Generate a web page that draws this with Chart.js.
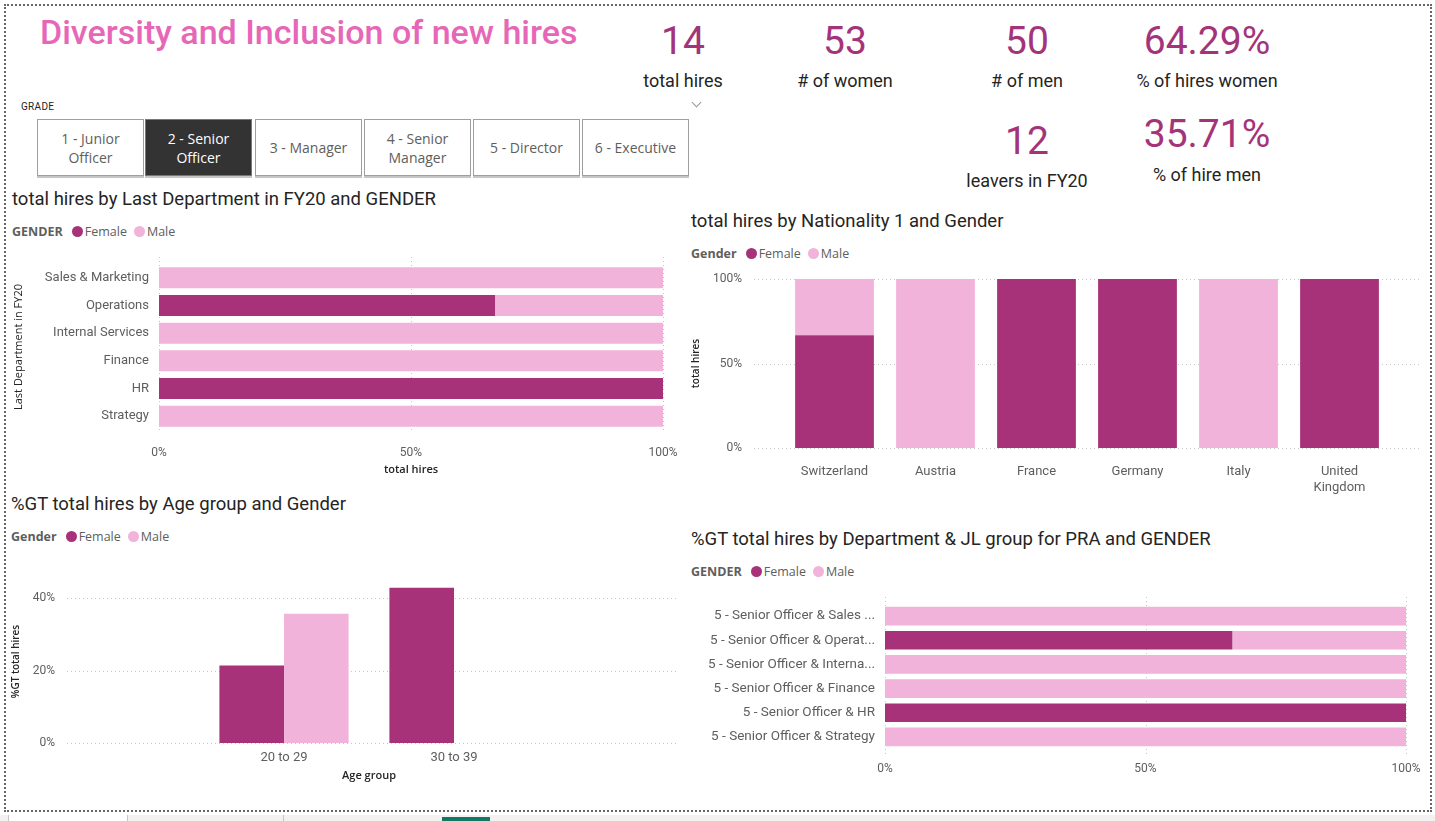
<!DOCTYPE html>
<html>
<head>
<meta charset="utf-8">
<script src="https://cdn.jsdelivr.net/npm/chart.js@4.4.1/dist/chart.umd.min.js"></script>
<style>
  html, body { margin: 0; padding: 0; background: #fff; }
  #page { position: relative; width: 1435px; height: 821px; overflow: hidden; font-family: Roboto, sans-serif; }
  .frame { position: absolute; left: 4px; top: 4px; width: 1424px; height: 804px; border: 2px dotted #666; }
  .title { position: absolute; left: 40px; top: 12px; font-size: 34px; font-weight: 500; color: #E667B7; white-space: nowrap; }
  .kpi { position: absolute; width: 200px; margin-left: -100px; text-align: center; white-space: nowrap; }
  .kpi .v { font-size: 39px; color: #A4347A; line-height: 39px; }
  .kpi .l { position: absolute; left: 0; width: 200px; font-size: 18px; color: #252423; }
  .grade { position: absolute; left: 21px; top: 101px; font-size: 10px; color: #252423; letter-spacing: 0.3px; }
  .chev { position: absolute; left: 693px; top: 99px; width: 6px; height: 6px; border-right: 1px solid #999; border-bottom: 1px solid #999; transform: rotate(45deg); }
  .btn { position: absolute; top: 119px; height: 57px; border: 1px solid #a19f9d; box-shadow: 0 2px 0 #c8c6c4; background: #fff; color: #605E5C;
         font-family: "Open Sans", sans-serif; font-size: 14px; line-height: 19px; display: flex; align-items: center; justify-content: center; text-align: center; box-sizing: border-box; }
  .btn.sel { background: #333; color: #fff; border-color: #777; }
  .ctitle { position: absolute; font-size: 18.5px; color: #252423; white-space: nowrap; }
  .legend { position: absolute; font-family: "Open Sans", sans-serif; font-size: 12.5px; color: #605E5C; white-space: nowrap; display: flex; align-items: center; }
  .legend b { color: #605E5C; margin-right: 6px; font-weight: 700; }
  .legend .dot { display: inline-block; width: 11px; height: 11px; border-radius: 50%; margin: 0 2px 0 3px; }
  .legend span.t { margin-right: 4px; }
  canvas { position: absolute; }
  .strip { position: absolute; left: 0; top: 815px; width: 1435px; height: 6px; background: #F3F2F1; }
  .tab { position: absolute; top: 815px; height: 6px; border-left: 1px solid #c8c6c4; }
</style>
</head>
<body>
<div id="page">
  <div class="frame"></div>
  <div class="title">Diversity and Inclusion of new hires</div>
  <div class="grade">GRADE</div>
  <div class="chev"></div>

  <div class="ctitle" style="left:12px;top:188px">total hires by Last Department in FY20 and GENDER</div>
  <div class="legend" id="lg1" style="left:12px;top:223px"></div>
  <canvas id="c1" width="680" height="230" style="left:10px;top:250px"></canvas>

  <div class="ctitle" style="left:691px;top:210px">total hires by Nationality 1 and Gender</div>
  <div class="legend" id="lg2" style="left:691px;top:245px"></div>
  <canvas id="c2" width="745" height="230" style="left:688px;top:268px"></canvas>

  <div class="ctitle" style="left:11px;top:493px">%GT total hires by Age group and Gender</div>
  <div class="legend" id="lg3" style="left:11px;top:528px"></div>
  <canvas id="c3" width="680" height="225" style="left:8px;top:560px"></canvas>

  <div class="ctitle" style="left:691px;top:528px">%GT total hires by Department &amp; JL group for PRA and GENDER</div>
  <div class="legend" id="lg4" style="left:691px;top:563px"></div>
  <canvas id="c4" width="745" height="185" style="left:688px;top:595px"></canvas>

  <div class="strip"></div>
  <div class="tab" style="left:8px;width:119px;background:#fff"></div>
  <div class="tab" style="left:127px;width:156px"></div>
  <div class="tab" style="left:283px;width:159px"></div>
  <div class="tab" style="left:442px;width:48px;top:817px;height:4px;background:#117865;border:none"></div>
</div>
<script>
// ---- data ----
var kpiValues = ['14', '53', '50', '64.29%', '12', '35.71%'];
var kpiLabels = ['total hires', '# of women', '# of men', '% of hires women', 'leavers in FY20', '% of hire men'];

var grades = [['1 - Junior', 'Officer'], ['2 - Senior', 'Officer'], ['3 - Manager'], ['4 - Senior', 'Manager'], ['5 - Director'], ['6 - Executive']];
var selectedGrade = 1;

var genders = ['Female', 'Male'];

var deptLabels = ['Sales & Marketing', 'Operations', 'Internal Services', 'Finance', 'HR', 'Strategy'];
var deptFemale = [0, 66.67, 0, 0, 100, 0];
var deptMale = [100, 33.33, 100, 100, 0, 100];

var natLabels = ['Switzerland', 'Austria', 'France', 'Germany', 'Italy', ['United', 'Kingdom']];
var natFemale = [66.67, 0, 100, 100, 0, 100];
var natMale = [33.33, 100, 0, 0, 100, 0];

var ageLabels = ['20 to 29', '30 to 39'];
var ageFemale = [21.43, 42.86];
var ageMale = [35.71, null];
var ageTicks = [0, 20, 40];

var jlLabels = ['5 - Senior Officer & Sales & Marketing', '5 - Senior Officer & Operations', '5 - Senior Officer & Internal Services',
                '5 - Senior Officer & Finance', '5 - Senior Officer & HR', '5 - Senior Officer & Strategy'];
var jlFemale = [0, 66.67, 0, 0, 100, 0];
var jlMale = [100, 33.33, 100, 100, 0, 100];

var percentTicks = [0, 50, 100];

// ---- colours ----
var FEMALE = '#A7327A';
var MALE = '#F1B3DA';
var TICK = '#605E5C';
var DARK = '#252423';

// ---- KPI cards ----
var kpiPos = [[683, 22, 70], [845, 22, 70], [1027, 22, 70], [1207, 22, 70], [1027, 122, 170], [1207, 115, 164]];
var page = document.getElementById('page');
kpiValues.forEach(function (v, i) {
	var d = document.createElement('div');
	d.className = 'kpi';
	d.style.left = kpiPos[i][0] + 'px';
	d.style.top = kpiPos[i][1] + 'px';
	d.innerHTML = '<div class="v">' + v + '</div><div class="l" style="top:' + (kpiPos[i][2] - kpiPos[i][1]) + 'px">' + kpiLabels[i] + '</div>';
	page.appendChild(d);
});

// ---- slicer ----
var btnLeft = [37, 145, 255, 364, 473, 582];
grades.forEach(function (g, i) {
	var b = document.createElement('div');
	b.className = 'btn' + (i === selectedGrade ? ' sel' : '');
	b.style.left = btnLeft[i] + 'px';
	b.style.width = '107px';
	b.innerHTML = g.join('<br>');
	page.appendChild(b);
});

// ---- legends ----
function legend(id, title) {
	var el = document.getElementById(id);
	var html = '<b>' + title + '</b>';
	genders.forEach(function (g, i) {
		html += '<span class="dot" style="background:' + (i === 0 ? FEMALE : MALE) + '"></span><span class="t">' + g + '</span>';
	});
	el.innerHTML = html;
}
legend('lg1', 'GENDER');
legend('lg2', 'Gender');
legend('lg3', 'Gender');
legend('lg4', 'GENDER');

// dotted grid lines like Power BI, drawn a bit past the plot area
var dottedGrid = {
	id: 'dottedGrid',
	beforeDatasetsDraw: function (chart, args, opts) {
		var scale = chart.scales[opts.axis];
		var a = chart.chartArea;
		var ctx = chart.ctx;
		ctx.save();
		ctx.strokeStyle = '#C8C6C4';
		ctx.lineWidth = 1;
		ctx.setLineDash([1, 3]);
		scale.ticks.forEach(function (t) {
			var p = Math.round(scale.getPixelForValue(t.value)) + 0.5;
			ctx.beginPath();
			if (opts.axis === 'y') {
				ctx.moveTo(a.left - opts.before, p);
				ctx.lineTo(a.right + opts.after, p);
			} else {
				ctx.moveTo(p, a.top - opts.before);
				ctx.lineTo(p, a.bottom + opts.after);
			}
			ctx.stroke();
		});
		ctx.restore();
	}
};

Chart.defaults.font.family = 'Roboto, sans-serif';
Chart.defaults.color = TICK;

function pct(v) { return v + '%'; }
function fixedTicks(list) {
	return function (s) { s.ticks = list.map(function (v) { return { value: v }; }); };
}
// pin axis sizes so the plot area lands where Power BI puts it
function fixW(w) {
	return function (s) { s.width = w; s.paddingTop = 0; s.paddingBottom = 0; };
}
function fixH(h) {
	return function (s) { s.height = h; s.paddingLeft = 0; s.paddingRight = 0; };
}
var noGrid = { display: false, drawTicks: false };

function axisTitle(text, pad, size, weight) {
	return { display: true, text: text, color: DARK, padding: pad, font: { family: '"Open Sans", sans-serif', size: size, weight: weight } };
}

function datasets(f, m, bp, cp) {
	return [
		{ label: genders[0], data: f, backgroundColor: FEMALE, barPercentage: bp, categoryPercentage: cp },
		{ label: genders[1], data: m, backgroundColor: MALE, barPercentage: bp, categoryPercentage: cp }
	];
}

var baseOpts = { responsive: false, animation: false, events: [] };
var noPlugins = { legend: { display: false }, tooltip: { enabled: false } };

// chart 1: last department (100% stacked bar)
new Chart(document.getElementById('c1'), {
	type: 'bar',
	data: { labels: deptLabels, datasets: datasets(deptFemale, deptMale, 0.76, 1) },
	options: Object.assign({}, baseOpts, {
		indexAxis: 'y',
		layout: { padding: { top: 14, right: 27, left: 0, bottom: 0 } },
		scales: {
			x: {
				stacked: true, min: 0, max: 100, grid: noGrid, border: { display: false },
				afterBuildTicks: fixedTicks(percentTicks),
				ticks: { callback: pct, padding: 16, font: { size: 12 } },
				title: axisTitle('total hires', { top: 0, bottom: 4 }, 11, '600'),
				afterFit: fixH(50)
			},
			y: {
				stacked: true, grid: noGrid, border: { display: false },
				ticks: { padding: 10, font: { size: 13 } },
				title: axisTitle('Last Department in FY20', { top: 2, bottom: 0 }, 11, '400'),
				afterFit: fixW(149)
			}
		},
		plugins: Object.assign({ dottedGrid: { axis: 'x', before: 7, after: 3 } }, noPlugins)
	}),
	plugins: [dottedGrid]
});

// chart 2: nationality (100% stacked column)
new Chart(document.getElementById('c2'), {
	type: 'bar',
	data: { labels: natLabels, datasets: datasets(natFemale, natMale, 0.78, 1) },
	options: Object.assign({}, baseOpts, {
		layout: { padding: { top: 11, right: 43, left: 0, bottom: 0 } },
		scales: {
			x: {
				stacked: true, grid: noGrid, border: { display: false },
				ticks: { padding: 16, font: { size: 13 }, maxRotation: 0 },
				afterFit: fixH(50)
			},
			y: {
				stacked: true, min: 0, max: 100, grid: noGrid, border: { display: false },
				afterBuildTicks: fixedTicks(percentTicks),
				ticks: { callback: pct, padding: 42, font: { size: 12 } },
				title: axisTitle('total hires', { top: 2, bottom: 0 }, 10, '600'),
				afterFit: fixW(96)
			}
		},
		plugins: Object.assign({ dottedGrid: { axis: 'y', before: 30, after: 30 } }, noPlugins)
	}),
	plugins: [dottedGrid]
});

// chart 3: age group (clustered column)
new Chart(document.getElementById('c3'), {
	type: 'bar',
	data: { labels: ageLabels, datasets: datasets(ageFemale, ageMale, 1, 0.76) },
	options: Object.assign({}, baseOpts, {
		layout: { padding: { top: 20, right: 149, left: 0, bottom: 0 } },
		scales: {
			x: {
				grid: noGrid, border: { display: false },
				ticks: { padding: 7, font: { size: 13 } },
				title: axisTitle('Age group', { top: 0, bottom: 3 }, 11, '600'),
				afterFit: fixH(42)
			},
			y: {
				min: 0, max: 45, grid: noGrid, border: { display: false },
				afterBuildTicks: fixedTicks(ageTicks),
				ticks: { callback: pct, padding: 144, font: { size: 12 } },
				title: axisTitle('%GT total hires', { top: 2, bottom: 0 }, 10, '600'),
				afterFit: fixW(191)
			}
		},
		plugins: Object.assign({ dottedGrid: { axis: 'y', before: 132, after: 139 } }, noPlugins)
	}),
	plugins: [dottedGrid]
});

// chart 4: department & JL group (100% stacked bar), long labels cut like Power BI
var measure = document.createElement('canvas').getContext('2d');
measure.font = '13.5px Roboto';
function fitLabel(text, max) {
	if (measure.measureText(text).width <= max) return text;
	while (text.length && measure.measureText(text + '...').width > max) text = text.slice(0, -1);
	return text + '...';
}
new Chart(document.getElementById('c4'), {
	type: 'bar',
	data: { labels: jlLabels, datasets: datasets(jlFemale, jlMale, 0.77, 1) },
	options: Object.assign({}, baseOpts, {
		indexAxis: 'y',
		layout: { padding: { top: 9, right: 27, left: 0, bottom: 0 } },
		scales: {
			x: {
				stacked: true, min: 0, max: 100, grid: noGrid, border: { display: false },
				afterBuildTicks: fixedTicks(percentTicks),
				ticks: { callback: pct, padding: 13, font: { size: 12 } },
				afterFit: fixH(31)
			},
			y: {
				stacked: true, grid: noGrid, border: { display: false },
				ticks: { padding: 10, font: { size: 13.5 }, callback: function (v) { return fitLabel(this.getLabelForValue(v), 168); } },
				afterFit: fixW(197)
			}
		},
		plugins: Object.assign({ dottedGrid: { axis: 'x', before: 7, after: 8 } }, noPlugins)
	}),
	plugins: [dottedGrid]
});
</script>
</body>
</html>
